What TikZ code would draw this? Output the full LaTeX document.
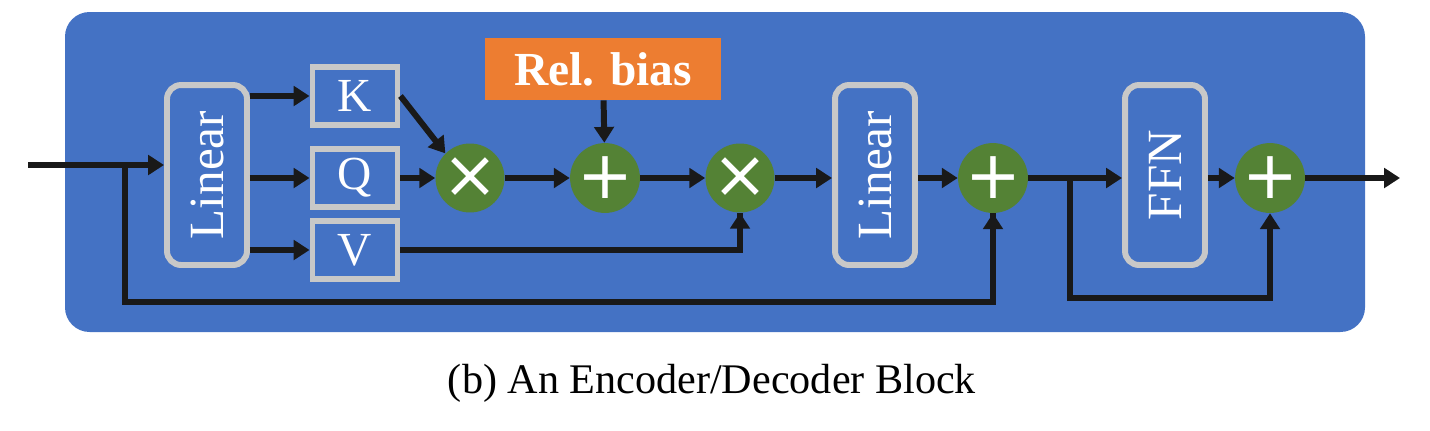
\documentclass[tikz,border=0pt]{standalone}
\usepackage{fontspec}
\setmainfont{Liberation Serif}
\newfontfamily\symf{DejaVu Sans}
\usetikzlibrary{arrows.meta}
\definecolor{bblue}{HTML}{4472C4}
\definecolor{ggreen}{HTML}{548235}
\definecolor{oorange}{HTML}{ED7D31}
\definecolor{bgray}{HTML}{C8C8C8}
\begin{document}
\begin{tikzpicture}[x=0.02cm,y=-0.02cm,
  box/.style={draw=bgray,line width=3.4pt,fill=bblue,text=white,inner sep=0pt},
  lin/.style={box,rounded corners=8pt,minimum width=1.6cm,minimum height=3.6cm,font=\fontsize{28}{30}\selectfont},
  kqv/.style={box,minimum width=1.7cm,minimum height=1.15cm,font=\fontsize{27}{29}\selectfont},
  op/.style={circle,fill=ggreen,minimum size=1.38cm,inner sep=0pt,text=white,font=\symf\fontsize{38}{38}\selectfont},
  ar/.style={line width=3.4pt,draw=black!90,-{Triangle[length=9pt,width=11pt]}},
  ln/.style={line width=3.4pt,draw=black!90}]
\useasboundingbox (0,0) rectangle (1430,430);
\fill[bblue,rounded corners=14pt] (65,12) rectangle (1365,332);
\node[lin] (l1) at (207,175) {\rotatebox{90}{Linear}};
\node[kqv] (k) at (355,96) {K};
\node[kqv] (q) at (355,178) {Q};
\node[kqv] (v) at (355,250) {V};
\node[op] (m1) at (470,178) {×};
\node[op] (p1) at (605,178) {+};
\node[op] (m2) at (740,178) {×};
\node[lin] (l2) at (875,175) {\rotatebox{90}{Linear}};
\node[op] (p2) at (993,178) {+};
\node[lin] (ffn) at (1165,175) {\rotatebox{90}{FFN}};
\node[op] (p3) at (1270,178) {+};
\node[fill=oorange,text=white,font=\fontsize{27}{29}\selectfont\bfseries,minimum width=4.74cm,minimum height=1.24cm,inner sep=0pt] (rb) at (603,69) {Rel. bias};
\coordinate (in) at (28,165);
\coordinate (out) at (1400,178);
\coordinate (b1) at (125,165);
\coordinate (b2) at (1070,178);
\node[font=\fontsize{24}{26}\selectfont] (cap) at (712,383) {(b) An Encoder/Decoder Block};
\draw[ar] (in) -- (l1.west|-in);
\draw[ln] (b1) |- (125,302) -| (p2.south);
\draw[ar] (993,302) -- (p2.south);
\draw[ar] (l1.east|-k) -- (k.west);
\draw[ar] (l1.east|-q) -- (q.west);
\draw[ar] (l1.east|-v) -- (v.west);
\draw[ar] (k.east) -- (m1.north west);
\draw[ar] (q.east) -- (m1.west);
\draw[ar] (m1) -- (p1);
\draw[ar] (rb) -- (p1);
\draw[ar] (p1) -- (m2);
\draw[ln] (v.east) -| (m2.south);
\draw[ar] (740,250) -- (m2.south);
\draw[ar] (m2) -- (l2.west|-m2);
\draw[ar] (l2.east|-p2) -- (p2);
\draw[ar] (p2) -- (ffn.west|-p2);
\draw[ln] (b2) |- (1273,298);
\draw[ar] (1270,298) -- (p3.south);
\draw[ar] (ffn.east|-p3) -- (p3);
\draw[ar] (p3) -- (out);
\end{tikzpicture}
\end{document}
